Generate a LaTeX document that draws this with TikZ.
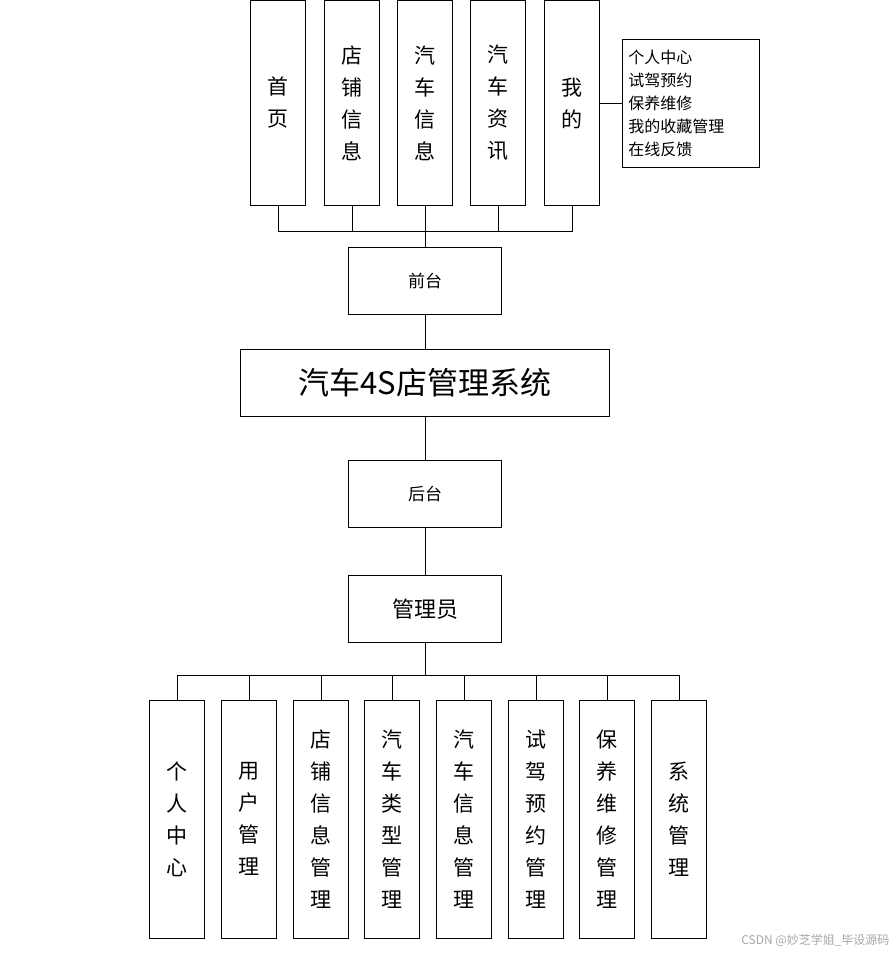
\documentclass[tikz,border=0pt]{standalone}
\usepackage{fontspec}
\newfontfamily\cjk{Noto Sans CJK SC}
\usetikzlibrary{positioning}
\tikzset{
  box/.style = {draw, thick, inner sep=0pt, align=center, font=\cjk},
  vbox/.style = {box, minimum width=55pt, font=\cjk\fontsize{21}{32}\selectfont},
  hbox/.style = {box, minimum width=153pt, minimum height=67pt},
}
\begin{document}
\begin{tikzpicture}[x=1pt, y=-1pt]
  \useasboundingbox (0,0) rectangle (895,953);

  % top modules
  \foreach \n/\x/\t in {a/278/首\\页, b/352/店\\铺\\信\\息, c/425/汽\\车\\信\\息, d/498/汽\\车\\资\\讯, e/572/我\\的}
    \node[vbox, minimum height=205pt] (\n) at (\x,103) {\t};
  \node[box, anchor=north west, text width=125pt, inner xsep=6pt, minimum height=128pt,
        align=left, font=\cjk\fontsize{16}{23}\selectfont] (mine) at (622,39)
        {个人中心\\试驾预约\\保养维修\\我的收藏管理\\在线反馈};
  \draw[thick] (e.east) -- (e.east -| mine.west);

  % centre column
  \node[hbox, font=\cjk\fontsize{17}{20}\selectfont] (front) at (425,281) {前台};
  \node[box, minimum width=369pt, minimum height=67pt, font=\cjk\fontsize{31}{34}\selectfont] (sys) at (425,383) {汽车4S店管理系统};
  \node[hbox, font=\cjk\fontsize{17}{20}\selectfont] (back) at (425,494) {后台};
  \node[hbox, font=\cjk\fontsize{22}{24}\selectfont] (admin) at (425,609) {管理员};

  \coordinate (bus1) at (425,231);
  \foreach \n in {a,b,c,d,e}
    \draw[thick] (\n.south) |- (bus1);
  \draw[thick] (c.south) -- (front.north);
  \draw[thick] (front) -- (sys);
  \draw[thick] (sys) -- (back);
  \draw[thick] (back) -- (admin);

  % admin modules
  \coordinate (bus2) at (425,675);
  \foreach \n/\x/\t in {p/177/个\\人\\中\\心, q/249/用\\户\\管\\理, r/321/店\\铺\\信\\息\\管\\理,
                        s/392/汽\\车\\类\\型\\管\\理, t/464/汽\\车\\信\\息\\管\\理, u/536/试\\驾\\预\\约\\管\\理,
                        v/607/保\\养\\维\\修\\管\\理, w/679/系\\统\\管\\理} {
    \node[vbox, minimum height=238pt] (\n) at (\x,819) {\t};
    \draw[thick] (\n.north) |- (bus2);
  }
  \draw[thick] (admin.south) -- (bus2);

  \node[anchor=south east, text=gray!70, font=\cjk\fontsize{12}{13}\selectfont] (mark) at (893,950) {CSDN @妙芝学姐\_毕设源码};
\end{tikzpicture}
\end{document}
